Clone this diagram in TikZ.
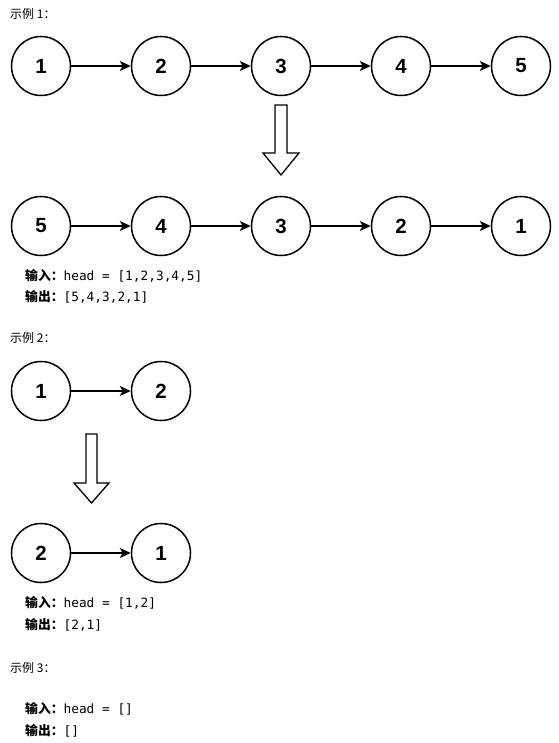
\documentclass[tikz,border=0pt]{standalone}
\usepackage{fontspec}
\setmainfont{Liberation Sans}
\newfontfamily\cjk{Noto Sans CJK SC}
\newfontfamily\codefont{DejaVu Sans Mono}
\usetikzlibrary{arrows.meta}
\tikzset{
  nd/.style={circle,draw,line width=1.5pt,minimum size=59pt,inner sep=0pt,font=\fontsize{20.5}{21}\selectfont\bfseries},
  edge/.style={line width=1.3pt,-{Stealth[length=11pt,width=10pt,inset=3pt]}},
  bigarrow/.style={draw,line width=1.3pt,fill=white,line join=miter},
  head/.style={anchor=west,inner sep=0pt,font=\cjk\fontsize{12}{12}\selectfont},
  io/.style={anchor=west,inner sep=0pt,font=\fontsize{12.8}{13}\selectfont},
}
\newcommand{\lbl}[1]{{\cjk\bfseries #1}}
\begin{document}
\begin{tikzpicture}[x=1pt,y=-1pt]
\useasboundingbox (0,0) rectangle (558,743);
% example 1
\node[head] (h1) at (10,14) {示例 1：};
\node[nd] (a1) at (41,66) {1};
\node[nd] (a2) at (161,66) {2};
\node[nd] (a3) at (281,66) {3};
\node[nd] (a4) at (401,66) {4};
\node[nd] (a5) at (521,66) {5};
\draw[edge] (a1) -- (a2);
\draw[edge] (a2) -- (a3);
\draw[edge] (a3) -- (a4);
\draw[edge] (a4) -- (a5);
\draw[bigarrow] (275,105) -- (287,105) -- (287,153) -- (299,153) -- (281,175) -- (263,153) -- (275,153) -- cycle;
\node[nd] (b1) at (41,226) {5};
\node[nd] (b2) at (161,226) {4};
\node[nd] (b3) at (281,226) {3};
\node[nd] (b4) at (401,226) {2};
\node[nd] (b5) at (521,226) {1};
\draw[edge] (b1) -- (b2);
\draw[edge] (b2) -- (b3);
\draw[edge] (b3) -- (b4);
\draw[edge] (b4) -- (b5);
\node[io] (i1) at (25,276) {\lbl{输入：}\codefont head = [1,2,3,4,5]};
\node[io] (o1) at (25,297) {\lbl{输出：}\codefont [5,4,3,2,1]};
% example 2
\node[head] (h2) at (10,338) {示例 2：};
\node[nd] (c1) at (41,391) {1};
\node[nd] (c2) at (161,391) {2};
\draw[edge] (c1) -- (c2);
\draw[bigarrow] (86,434) -- (97,434) -- (97,483) -- (109,483) -- (91.5,503) -- (74,483) -- (86,483) -- cycle;
\node[nd] (d1) at (41,553) {2};
\node[nd] (d2) at (161,553) {1};
\draw[edge] (d1) -- (d2);
\node[io] (i2) at (25,603) {\lbl{输入：}\codefont head = [1,2]};
\node[io] (o2) at (25,625) {\lbl{输出：}\codefont [2,1]};
% example 3
\node[head] (h3) at (10,668) {示例 3：};
\node[io] (i3) at (25,709) {\lbl{输入：}\codefont head = []};
\node[io] (o3) at (25,731) {\lbl{输出：}\codefont []};
\end{tikzpicture}
\end{document}
